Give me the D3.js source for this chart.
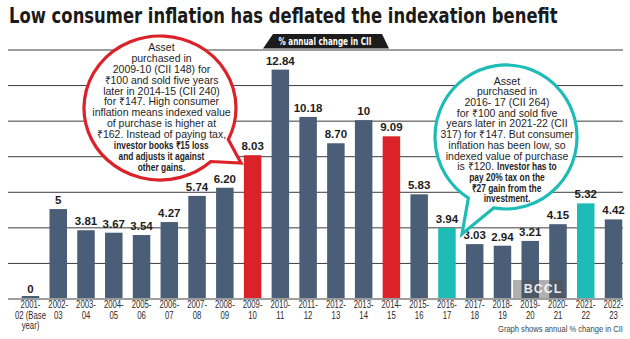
<!DOCTYPE html>
<html>
<head>
<meta charset="utf-8">
<script src="https://cdn.jsdelivr.net/npm/d3@7"></script>
<style>
  body { margin: 0; background: #fff; }
  svg { display: block; }
</style>
</head>
<body>
<div id="canvas"></div>
<script>
"use strict"

/* Data: % annual change in the cost inflation index (CII) */
let years = ["2001-02", "2002-03", "2003-04", "2004-05", "2005-06", "2006-07", "2007-08",
    "2008-09", "2009-10", "2010-11", "2011-12", "2012-13", "2013-14", "2014-15", "2015-16",
    "2016-17", "2017-18", "2018-19", "2019-20", "2020-21", "2021-22", "2022-23"];
let changes = [0, 5, 3.81, 3.67, 3.54, 4.27, 5.74, 6.20, 8.03, 12.84, 10.18, 8.70, 10,
    9.09, 5.83, 3.94, 3.03, 2.94, 3.21, 4.15, 5.32, 4.42];
let tickLines = [["2001-", "02 (Base", "year)"], ["2002-", "03"], ["2003-", "04"], ["2004-", "05"],
    ["2005-", "06"], ["2006-", "07"], ["2007-", "08"], ["2008-", "09"], ["2009-", "10"],
    ["2010-", "11"], ["2011-", "12"], ["2012-", "13"], ["2013-", "14"], ["2014-", "15"],
    ["2015-", "16"], ["2016-", "17"], ["2017-", "18"], ["2018-", "19"], ["2019-", "20"],
    ["2020-", "21"], ["2021-", "22"], ["2022-", "23"]];
let gridTicks = [0, 2, 4, 6, 8, 10, 12, 14];
let redYears = ["2009-10", "2014-15"];
let tealYears = ["2016-17", "2021-22"];

/* Annotation texts, one entry per line: [regular part, bold part] */
let redNote = [
    ["Asset"], ["purchased in"], ["2009-10 (CII 148) for"], ["\u20b9100 and sold five years"],
    ["later in 2014-15 (CII 240)"], ["for \u20b9147. High consumer"], ["inflation means indexed value"],
    ["of purchase is higher at"], ["\u20b9162. Instead of paying tax,"],
    [null, "investor books \u20b915 loss"], [null, "and adjusts it against"], [null, "other gains."]
];
let tealNote = [
    ["Asset"], ["purchased in"], ["2016- 17 (CII 264)"], ["for \u20b9100 and sold five"],
    ["years later in 2021-22 (CII"], ["317) for \u20b9147. But consumer"], ["inflation has been low, so"],
    ["indexed value of purchase"], ["is \u20b9120. ", "Investor has to"],
    [null, "pay 20% tax on the"], [null, "\u20b927 gain from the"], [null, "investment."]
];

/* Configuration variables: drawing */
let svgWidth = 630;
let svgHeight = 339;
let narrow = "'Liberation Sans Narrow', 'DejaVu Sans Condensed', sans-serif";
let sans = "'Liberation Sans', Arial, sans-serif";
let slate = "#4b5e78";
let red = "#dc2229";
let teal = "#1dbcb6";

let svg = d3.select("#canvas")
    .append("svg")
    .attr("width", svgWidth)
    .attr("height", svgHeight);

/* Squeeze a text horizontally so that it spans the given width, anchored at x */
function fitWidth(sel, x0, y0, width, anchor) {
    let w = sel.node().getComputedTextLength();
    let k = width / w;
    let left = anchor === "end" ? x0 - width : anchor === "middle" ? x0 - width / 2 : x0;
    sel.attr("x", 0).attr("y", 0).attr("text-anchor", "start")
        .attr("transform", "translate(" + left + "," + y0 + ") scale(" + k + ",1)");
}

/* Scales */
let x = d3.scaleBand()
    .domain(years)
    .range([16.6, 627.4])
    .paddingInner(0.37)
    .paddingOuter(0.185);

let y = d3.scaleLinear()
    .domain([0, 14])
    .range([298, 49]);

/* Title */
let title = svg.append("text")
    .attr("font-family", narrow)
    .attr("font-weight", "bold")
    .attr("font-size", 22)
    .attr("fill", "#1a1a1a")
    .text("Low consumer inflation has deflated the indexation benefit");
fitWidth(title, 9, 23, 549, "start");

/* Gridlines */
let grid = svg.append("g")
    .attr("transform", "translate(8,0)")
    .call(d3.axisLeft(y).tickValues(gridTicks).tickSize(-615).tickFormat(""));
grid.select(".domain").remove();
grid.selectAll("line")
    .attr("stroke", "#3c3c3c")
    .attr("stroke-width", 1)
    .attr("transform", "translate(0,0.5)");

/* Header tab */
svg.append("polygon")
    .attr("points", "263,48.5 273,34 382,34 389,48.5")
    .attr("fill", "#1c1c1c");
let tab = svg.append("text")
    .attr("font-family", narrow)
    .attr("font-weight", "bold")
    .attr("font-size", 10)
    .attr("fill", "#fff")
    .text("% annual change in CII");
fitWidth(tab, 325, 45, 93, "middle");

/* Bars */
let barColor = function (d) {
    if (redYears.includes(d)) {
        return red;
    } else if (tealYears.includes(d)) {
        return teal;
    } else { return slate; }
};

svg.selectAll("rect.bar")
    .data(years)
    .join("rect")
    .attr("class", "bar")
    .attr("x", d => x(d))
    .attr("width", x.bandwidth())
    .attr("y", (d, i) => Math.min(y(changes[i]), y(0) - 2))
    .attr("height", (d, i) => Math.max(y(0) - y(changes[i]), 2))
    .attr("fill", barColor);

/* Value labels */
svg.selectAll("text.value")
    .data(years)
    .join("text")
    .attr("class", "value")
    .attr("x", d => x(d) + x.bandwidth() / 2)
    .attr("y", (d, i) => y(changes[i]) - 5)
    .attr("text-anchor", "middle")
    .attr("font-family", sans)
    .attr("font-weight", "bold")
    .attr("font-size", 11.5)
    .attr("fill", "#1e1e1e")
    .text((d, i) => Number.isInteger(changes[i]) ? changes[i] : changes[i].toFixed(2));

/* X axis labels (squeezed horizontally like the condensed original) */
let xAxis = svg.append("g")
    .attr("transform", "translate(0," + y(0) + ")")
    .call(d3.axisBottom(x).tickSize(0).tickFormat(""));
xAxis.select(".domain").remove();
xAxis.selectAll(".tick text")
    .attr("font-family", sans)
    .attr("font-size", 10.2)
    .attr("fill", "#2a2a2a")
    .attr("y", 0)
    .attr("dy", null)
    .attr("transform", "scale(0.76,1)")
    .each(function (d, i) {
        let t = d3.select(this);
        tickLines[i].forEach(function (line, k) {
            t.append("tspan")
                .attr("x", 0)
                .attr("y", 10.5 + k * 10.5)
                .text(line);
        });
    });

/* Callouts */
function callout(cx, cy, rx, ry, a1, a2, tip, color) {
    let p = a => [cx + rx * Math.cos(a * Math.PI / 180), cy + ry * Math.sin(a * Math.PI / 180)];
    let s = p(a1), e = p(a2);
    svg.append("path")
        .attr("d", "M" + s + " A" + rx + "," + ry + " 0 1 0 " + e + " L" + tip + " Z")
        .attr("fill", "#fff")
        .attr("stroke", color)
        .attr("stroke-width", 3.2)
        .attr("stroke-linejoin", "miter");
}

/* Notes: bold part squeezed (original bold face is condensed) */
function noteText(lines, cx, top, step) {
    let regSqueeze = 1;
    let boldSqueeze = 0.8;
    let g = svg.append("g")
        .attr("font-family", sans)
        .attr("font-size", 10.5)
        .attr("fill", "#1e1e1e");
    lines.forEach(function (line, k) {
        let yy = top + k * step;
        let reg = null, bold = null, wr = 0, wb = 0;
        if (line[0]) {
            reg = g.append("text").attr("xml:space", "preserve").text(line[0]);
            wr = reg.node().getComputedTextLength() * regSqueeze;
        }
        if (line[1]) {
            bold = g.append("text").attr("font-weight", "bold").text(line[1]);
            wb = bold.node().getComputedTextLength() * boldSqueeze;
        }
        let left = cx - (wr + wb) / 2;
        if (reg) {
            reg.attr("transform", "translate(" + left + "," + yy + ") scale(" + regSqueeze + ",1)");
        }
        if (bold) {
            bold.attr("transform", "translate(" + (left + wr) + "," + yy + ") scale(" + boldSqueeze + ",1)");
        }
    });
}

callout(160, 108, 76, 72, 26, 48, [241, 163], red);
noteText(redNote, 161.5, 51.2, 10.85);

callout(506, 137, 71, 72, 100, 122, [462, 234], teal);
noteText(tealNote, 507, 84.6, 10.7);

/* Watermark */
svg.append("rect")
    .attr("x", 513)
    .attr("y", 280)
    .attr("width", 50)
    .attr("height", 18)
    .attr("fill", "rgba(80,80,80,0.45)");
svg.append("text")
    .attr("x", 543)
    .attr("y", 293)
    .attr("text-anchor", "middle")
    .attr("font-family", sans)
    .attr("font-weight", "bold")
    .attr("font-size", 12.5)
    .attr("letter-spacing", 1)
    .attr("fill", "rgba(255,255,255,0.9)")
    .text("BCCL");

/* Footnote */
let foot = svg.append("text")
    .attr("font-family", sans)
    .attr("font-size", 9.3)
    .attr("fill", "#444")
    .text("Graph shows annual % change in CII");
fitWidth(foot, 623, 332, 125, "end");
</script>
</body>
</html>
